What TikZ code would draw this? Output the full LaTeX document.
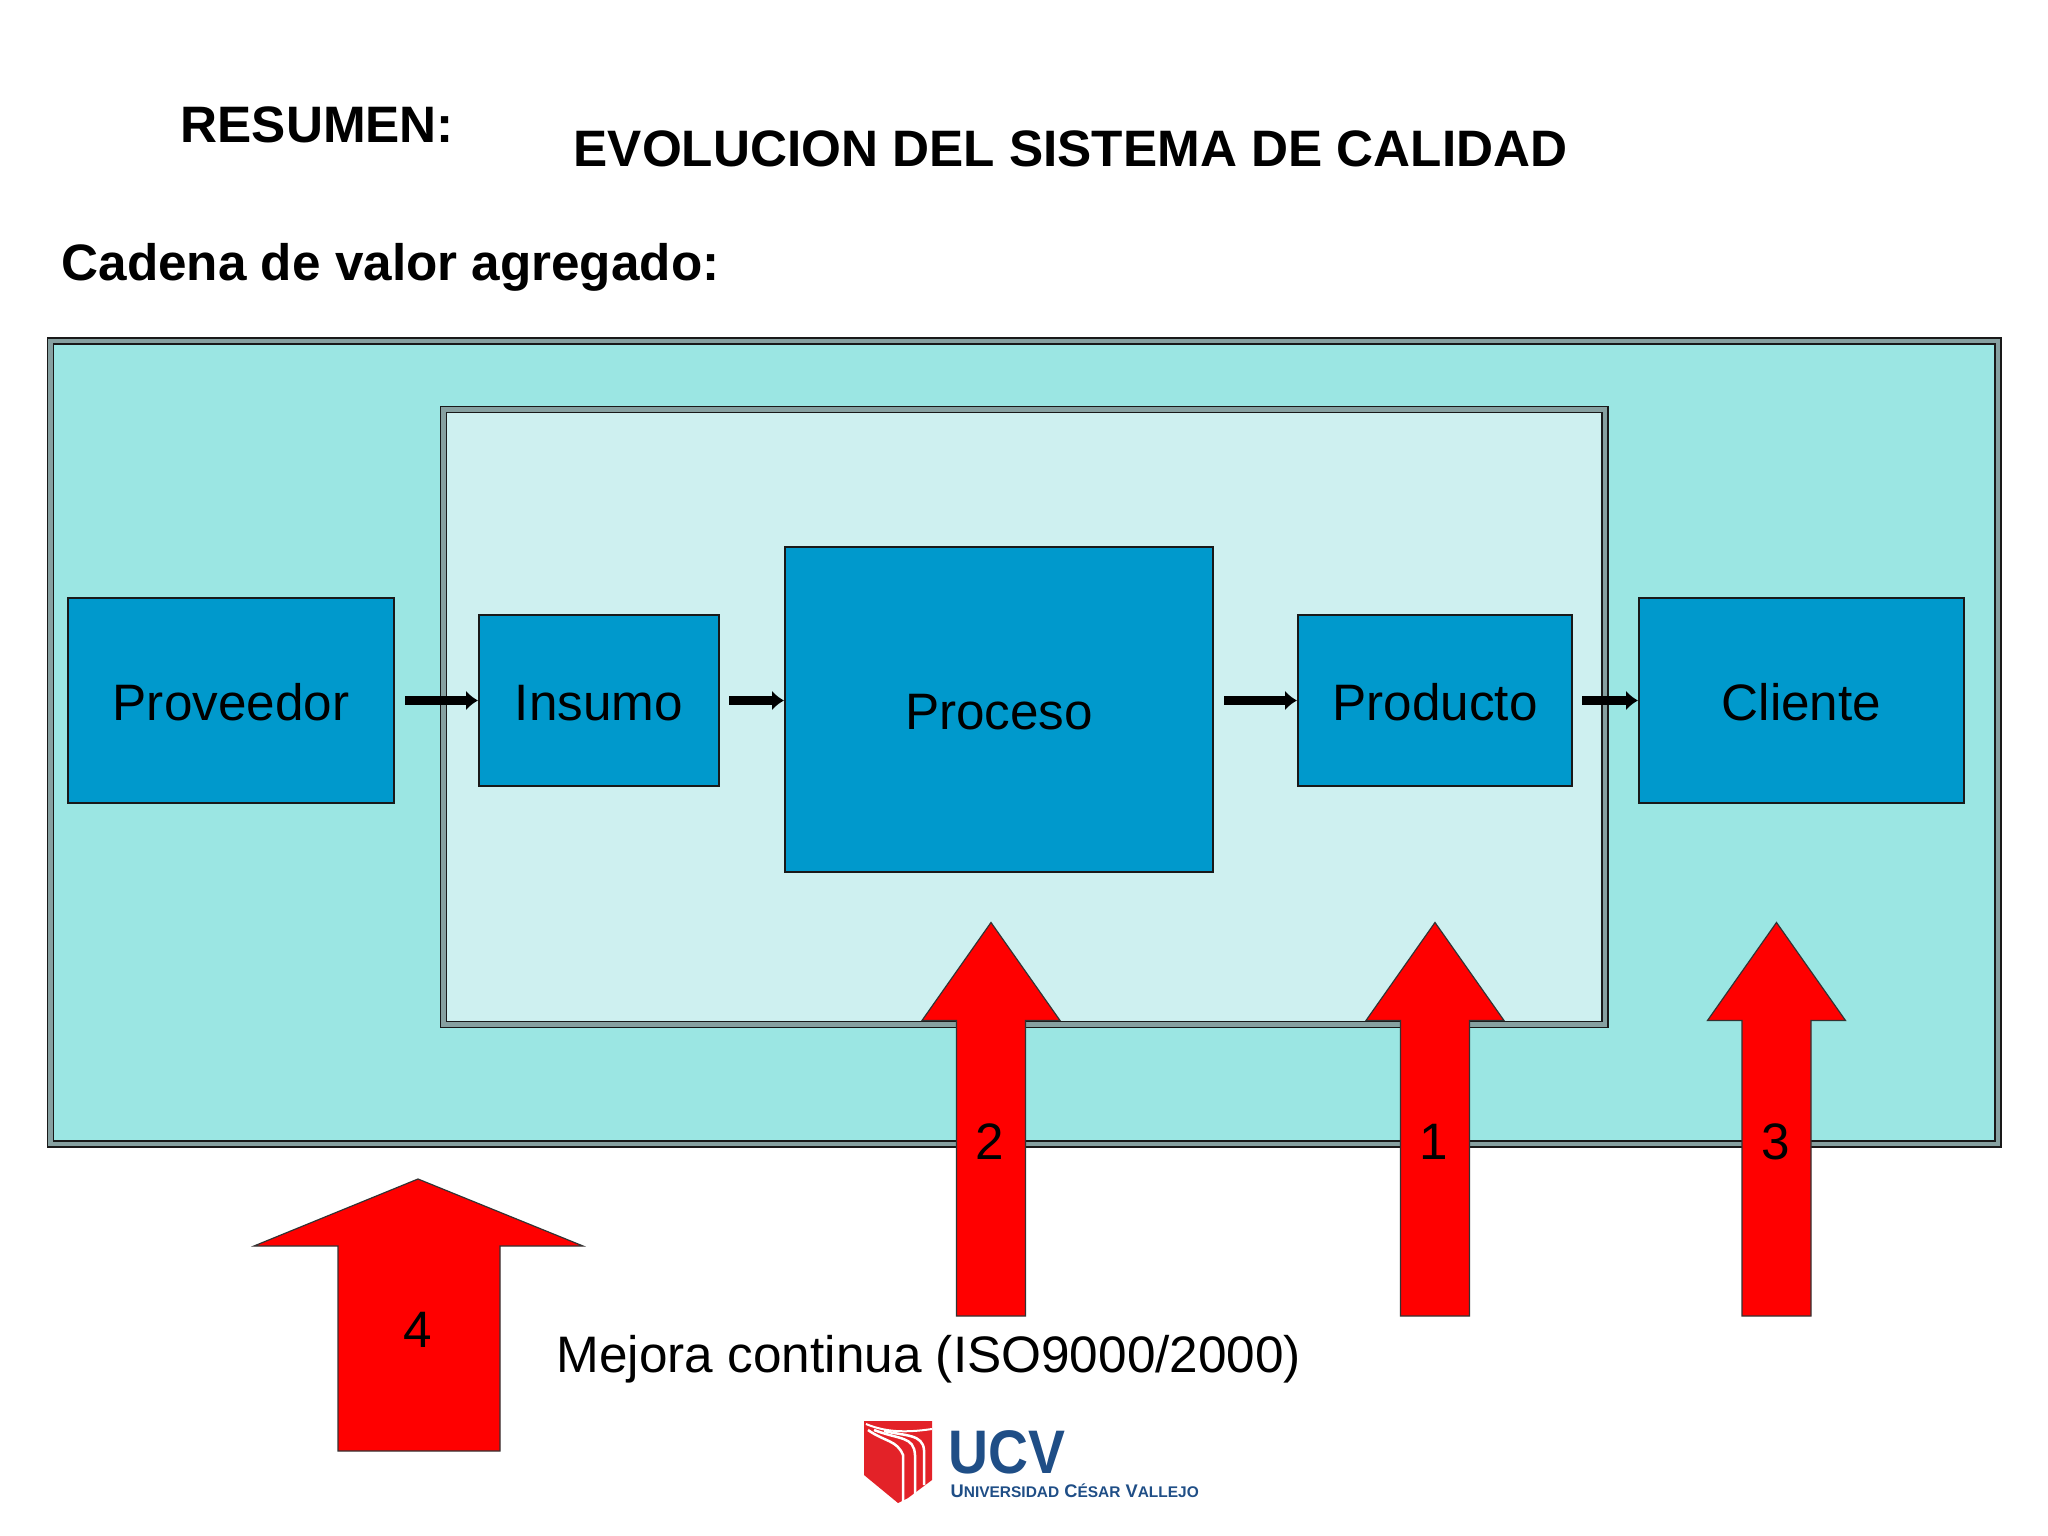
\documentclass[tikz,border=0pt]{standalone}
\usepackage{fontspec}
\setmainfont{Liberation Sans}
\usetikzlibrary{calc,arrows.meta}
\definecolor{aguaosc}{HTML}{9BE6E3}
\definecolor{aguacla}{HTML}{CEF0F0}
\definecolor{azulcaja}{HTML}{0099CC}
\definecolor{bordegris}{HTML}{86A0A0}
\definecolor{azulucv}{HTML}{1F4E86}
\definecolor{rojoucv}{HTML}{E32228}
\tikzset{
  marco/.style={draw=black!90, line width=.018cm, double=bordegris, double distance=.042cm, inner sep=0, outer sep=0},
  caja/.style={draw=black!90, line width=.016cm, fill=azulcaja, inner sep=0, outer sep=0, text height=11.1pt, text depth=0pt, font=\fontsize{14.58}{17}\selectfont},
  titulo/.style={anchor=base west, inner sep=0, font=\fontsize{14.58}{17}\selectfont\bfseries},
  flecha/.style={line width=.095cm, -{Latex[length=.12cm,width=.2cm]}, shorten >=.01cm},
  rojo/.style={draw=black!80, line width=.012cm, fill=red, line join=miter},
  numero/.style={inner sep=0, font=\fontsize{14.58}{17}\selectfont}
}
\begin{document}
\begin{tikzpicture}[y=-1cm]
\useasboundingbox (0,0) rectangle (20.48,15.36);
%titles
\node[titulo] (resumen) at (1.80,1.43) {RESUMEN:};
\node[titulo] (evolucion) at (5.73,1.67) {EVOLUCION DEL SISTEMA DE CALIDAD};
\node[titulo] (cadena) at (0.61,2.81) {Cadena de valor agregado:};

%frames
\node[marco, fill=aguaosc, minimum width=19.475cm, minimum height=8.03cm] (externo) at (10.243,7.425) {};
\node[marco, fill=aguacla, minimum width=11.615cm, minimum height=6.15cm] (interno) at (10.243,7.17) {};

%boxes
\node[caja, minimum width=3.26cm, minimum height=2.05cm] (proveedor) at (2.31,7.005) {Proveedor};
\node[caja, minimum width=2.40cm, minimum height=1.71cm] (insumo) at (5.99,7.005) {Insumo};
\node[caja, minimum width=4.28cm, minimum height=3.25cm] (proceso) at (9.99,7.095) {Proceso};
\node[caja, minimum width=2.74cm, minimum height=1.71cm] (producto) at (14.35,7.005) {Producto};
\node[caja, minimum width=3.25cm, minimum height=2.05cm] (cliente) at (18.015,7.005) {Cliente};

%small arrows
\draw[flecha, shorten <=.11cm] (proveedor) -- (insumo);
\draw[flecha, shorten <=.10cm] (insumo) -- (insumo.east -| proceso.west);
\draw[flecha, shorten <=.11cm] (proceso.east |- producto.west) -- (producto);
\draw[flecha, shorten <=.10cm] (producto) -- (cliente);

%red arrows
\foreach \x/\n/\l in {9.91/2/9.90,14.35/1/14.335,17.765/3/17.755}
{
  \draw[rojo] (\x-.345,13.16) -- (\x+.345,13.16) -- (\x+.345,10.205) -- (\x+.69,10.205)
    -- (\x,9.225) -- (\x-.69,10.205) -- (\x-.345,10.205) -- cycle;
  \node[numero] (num\n) at (\l,11.42) {\n};
}
\draw[rojo] (3.38,14.51) -- (5.00,14.51) -- (5.00,12.46) -- (5.83,12.46)
    -- (4.18,11.79) -- (2.54,12.46) -- (3.38,12.46) -- cycle;
\node[numero] (num4) at (4.18,13.30) {4};

\node[titulo, font=\fontsize{14.6}{17}\selectfont\mdseries] (mejora) at (5.56,13.72) {Mejora continua (ISO9000/2000)};

%logo
\fill[rojoucv] (8.64,14.21) -- (9.32,14.21) -- (9.32,14.80) -- (9.08,14.98) -- (8.98,15.03) -- (8.64,14.75) -- cycle;
\draw[white, line width=.02cm] (8.66,14.24) .. controls (8.85,14.32) and (9.05,14.33) .. (9.32,14.29);
\draw[white, line width=.025cm] (8.68,14.30) .. controls (8.85,14.42) and (8.97,14.40) .. (9.03,14.55) -- (9.03,15.03);
\draw[white, line width=.025cm] (8.74,14.30) .. controls (9.00,14.40) and (9.14,14.36) .. (9.15,14.55) -- (9.15,14.95);
\draw[white, line width=.025cm] (8.84,14.31) .. controls (9.05,14.36) and (9.23,14.34) .. (9.24,14.50) -- (9.24,14.85);
\node[anchor=base west, inner sep=0, text=azulucv, xscale=.9, transform shape, font=\fontsize{17.5}{20}\selectfont\bfseries] (ucv) at (9.48,14.73) {UCV};
\node[anchor=base west, inner sep=0, text=azulucv, font=\fontsize{5.2}{6}\selectfont\bfseries] (uni) at (9.50,14.97)
  {U{\fontsize{4.4}{6}\selectfont NIVERSIDAD} C{\fontsize{4.4}{6}\selectfont ÉSAR} V{\fontsize{4.4}{6}\selectfont ALLEJO}};
\end{tikzpicture}
\end{document}
